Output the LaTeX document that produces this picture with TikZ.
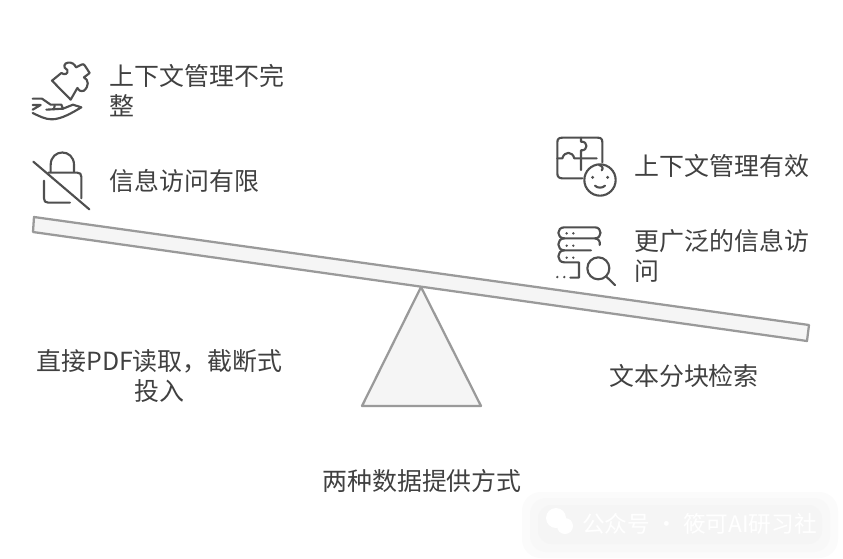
\documentclass[tikz,border=0pt]{standalone}
\usepackage{fontspec}
\setmainfont{Noto Sans CJK SC}
\definecolor{inkText}{HTML}{404040}
\definecolor{inkIcon}{HTML}{4F4F4F}
\definecolor{beamLine}{HTML}{9A9A9A}
\definecolor{beamFill}{HTML}{F5F5F5}
\definecolor{markEdge}{HTML}{FBFBFB}
\definecolor{markMid}{HTML}{F8F8F8}
\definecolor{markCore}{HTML}{F5F5F5}
\tikzset{
  label/.style={text=inkText,font=\fontsize{18.7pt}{22.5pt}\selectfont,inner sep=0pt},
  iconline/.style={draw=inkIcon,line width=1.6pt,line cap=round,line join=round},
  dot/.style={fill=inkIcon},
  seesaw/.style={draw=beamLine,fill=beamFill,line width=1.7pt,line join=round},
}

\begin{document}
\begin{tikzpicture}[x=0.75pt,y=-0.75pt]
    \useasboundingbox (0,0) rectangle (843,558);

    % seesaw
    \path[seesaw] (421,287) -- (481,406) -- (362,406) -- cycle;
    \path[seesaw] (34,217) -- (809,325) -- (807,341) -- (33,232) -- cycle;

    % texts
    \node[label,anchor=west,align=left] (NotComplete) at (109.5,91) {上下文管理不完\\整};
    \node[label,anchor=west] (Limited) at (109.5,180.5) {信息访问有限};
    \node[label,anchor=west] (Effective) at (634.5,166) {上下文管理有效};
    \node[label,anchor=west,align=left] (Wider) at (634.5,256) {更广泛的信息访\\问};
    \node[label,align=center] (Direct) at (159.5,376) {直接PDF读取，截断式\\投入};
    \node[label] (Chunk) at (684,375.5) {文本分块检索};
    \node[label] (Title) at (422,481) {两种数据提供方式};

    % hand with puzzle piece
    \begin{scope}[shift={(20,50)},x=0.25pt,y=-0.25pt]
      \draw[iconline] (96,92) -- (124,69) .. controls (134,76) and (146,72) .. (142,60)
        .. controls (126,52) and (134,38) .. (144,38) .. controls (154,36) and (164,42) .. (168,52)
        -- (184,44) .. controls (188,42) and (192,42) .. (194,46) -- (209,69) -- (192,82)
        .. controls (206,90) and (208,108) .. (192,122) .. controls (182,126) and (174,120) .. (172,114)
        -- (152,149) -- cycle;
      \draw[iconline] (38,146) -- (66,146) -- (92,164) -- (124,164) -- (129,176) -- (79,179);
      \draw[iconline] (129,176) -- (159,164) -- (184,172) .. controls (160,186) and (125,208) .. (95,208)
        .. controls (75,208) and (55,197) .. (38,189);
      \draw[iconline] (38,165) -- (62,165) -- (38,179);
      \draw[iconline] (104,166) -- (102,178);
    \end{scope}

    % crossed lock
    \begin{scope}[shift={(20,50)},x=0.25pt,y=-0.25pt]
      \draw[iconline] (92,365) -- (92,345) .. controls (92,295) and (162,295) .. (162,345) -- (162,365);
      \draw[iconline] (85,368) -- (172,368) .. controls (180,368) and (184,372) .. (184,380) -- (184,445);
      \draw[iconline] (72,392) -- (72,445) .. controls (72,454) and (76,458) .. (85,458) -- (150,458);
      \draw[iconline] (40,335) -- (208,478);
    \end{scope}

    % puzzle with face
    \begin{scope}[shift={(545,125)},x=0.25pt,y=-0.25pt]
      \draw[iconline] (172,112) -- (172,52) .. controls (172,42) and (168,38) .. (158,38)
        -- (52,38) .. controls (42,38) and (37,42) .. (37,52) -- (37,145)
        .. controls (37,155) and (42,160) .. (52,160) -- (112,160);
      \draw[iconline] (37,100) -- (52,100) .. controls (58,78) and (82,78) .. (88,100) -- (155,100);
      \draw[iconline] (108,38) -- (108,50) .. controls (130,48) and (130,78) .. (108,76) -- (108,135);
      \draw[iconline] (165,165) circle [radius=47];
      \fill[dot] (143,157) circle [radius=5];
      \fill[dot] (188,157) circle [radius=5];
      \draw[iconline] (150,182) .. controls (158,190) and (172,190) .. (180,182);
      \draw[iconline] (162,120) .. controls (172,122) and (176,130) .. (170,136);
    \end{scope}

    % database search
    \begin{scope}[shift={(545,125)},x=0.25pt,y=-0.25pt]
      \draw[iconline] (58,307) -- (150,307) .. controls (172,307) and (172,340) .. (150,340) -- (58,340)
        .. controls (34,340) and (34,307) .. (58,307);
      \draw[iconline] (58,340) .. controls (34,340) and (34,376) .. (58,376) -- (138,376);
      \draw[iconline] (150,340) .. controls (162,342) and (166,350) .. (164,360);
      \draw[iconline] (58,376) .. controls (34,376) and (34,412) .. (58,412) -- (102,412) -- (102,458) -- (76,458);
      \foreach \dotx/\doty in {65/325,85/325,65/362,85/362,65/398,85/398,37/456,58/456}
        \fill[dot] (\dotx,\doty) circle [radius=4];
      \draw[iconline] (160,430) circle [radius=33];
      \draw[iconline] (183,454) -- (210,480);
    \end{scope}

    % watermark
    \fill[markEdge,rounded corners=14pt] (522,492) rectangle (838,558);
    \fill[markMid,rounded corners=12pt] (530,498) rectangle (830,552);
    \fill[markCore,rounded corners=10pt] (538,505) rectangle (822,544);
    \fill[white] (556,518) circle [radius=10];
    \fill[white] (565,526) circle [radius=8];
    \node[text=white,font=\fontsize{17pt}{20pt}\selectfont,anchor=west,inner sep=0pt] (Mark) at (582,524) {公众号 · 筱可AI研习社};
\end{tikzpicture}
\end{document}
